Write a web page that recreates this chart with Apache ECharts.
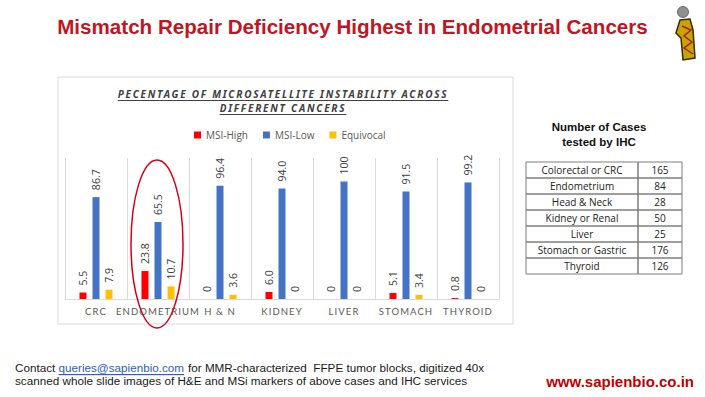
<!DOCTYPE html>
<html><head><meta charset="utf-8">
<script src="https://cdn.jsdelivr.net/npm/echarts@6/dist/echarts.min.js"></script>
<style>
html,body{margin:0;padding:0;background:#fff;}
#c{width:705px;height:397px;}
#c text[style*="Lato"]{letter-spacing:1.1px;}
#c text[style*="Noto Sans"]{letter-spacing:1.75px;text-decoration:underline;}
#c text[style*="Arial"]{text-decoration:underline;}
</style></head>
<body><div id="c"></div>
<script>
const categories = ['CRC', 'ENDOMETRIUM', 'H & N', 'KIDNEY', 'LIVER', 'STOMACH', 'THYROID'];
const seriesNames = ['MSI-High', 'MSI-Low', 'Equivocal'];
const msiHigh = [5.5, 23.8, 0, 6.0, 0, 5.1, 0.8];
const msiLow = [86.7, 65.5, 96.4, 94.0, 100, 91.5, 99.2];
const equivocal = [7.9, 10.7, 3.6, 0, 0, 3.4, 0];
const tableNames = ['Colorectal or CRC', 'Endometrium', 'Head & Neck', 'Kidney or Renal', 'Liver', 'Stomach or Gastric', 'Thyroid'];
const tableCounts = [165, 84, 28, 50, 25, 176, 126];

const colors = ['#FF0000', '#4472C4', '#FFC000'];
const fmt = p => (p.value === 0 || p.value === 100) ? String(p.value) : p.value.toFixed(1);

function mkSeries(name, data, color) {
  return {
    name: name, type: 'bar', data: data, barWidth: 7, barGap: '86%',
    itemStyle: { color: color },
    label: { show: true, position: 'top', rotate: 90, distance: 7, align: 'left', verticalAlign: 'middle',
      formatter: fmt, color: '#404040', fontSize: 10.5, fontFamily: 'Open Sans' }
  };
}

const graphics = [];
// main title
graphics.push({ type: 'text', x: 352.5, y: 27, scaleX: 1.03, originX: 0, originY: 0, style: { text: 'Mismatch Repair Deficiency Highest in Endometrial Cancers',
  font: 'bold 20px "Liberation Sans"', fill: '#BE1622', align: 'center', verticalAlign: 'middle' } });
graphics.push({ type: 'line', shape: { x1: 55, y1: 39, x2: 665, y2: 39 }, style: { lineWidth: 2,
  stroke: { type: 'linear', x: 0, y: 0, x2: 1, y2: 0, colorStops: [{ offset: 0, color: '#5B7FBF' }, { offset: 0.25, color: '#6C7FB0' }, { offset: 0.4, color: '#B5121B' }, { offset: 1, color: '#B5121B' }] } } });
// logo
graphics.push({ type: 'circle', shape: { cx: 683, cy: 12, r: 5.5 }, style: { fill: '#8f8f8f', stroke: '#666', lineWidth: 1 } });
graphics.push({ type: 'polygon', shape: { points: [[680, 20], [690, 19], [693, 30], [695, 58], [683, 60], [681, 38], [676, 33]] },
  style: { fill: '#C9A400', stroke: '#3A2A00', lineWidth: 1.5 } });
graphics.push({ type: 'polyline', shape: { points: [[682, 26], [691, 30], [684, 36], [692, 42], [684, 48], [693, 54]] },
  style: { fill: 'none', stroke: '#A0201A', lineWidth: 1.5 } });
// chart box
graphics.push({ type: 'rect', shape: { x: 58, y: 77, width: 455, height: 247 }, style: { fill: 'none', stroke: '#D9D9D9', lineWidth: 1 } });
// chart title
graphics.push({ type: 'text', x: 283, y: 94, style: { text: 'PECENTAGE OF MICROSATELLITE INSTABILITY ACROSS',
  font: 'italic bold 10px "Noto Sans"', fill: '#404040', align: 'center', verticalAlign: 'middle' } });
graphics.push({ type: 'text', x: 283, y: 108, style: { text: 'DIFFERENT CANCERS',
  font: 'italic bold 10px "Noto Sans"', fill: '#404040', align: 'center', verticalAlign: 'middle' } });
// ellipse
graphics.push({ type: 'ellipse', shape: { cx: 157, cy: 244, rx: 26, ry: 84 }, style: { fill: 'none', stroke: '#D0021B', lineWidth: 1.5 }, z: 100 });
// table
graphics.push({ type: 'text', x: 599, y: 127, style: { text: 'Number of Cases', font: 'bold 11.5px "Liberation Sans"', fill: '#111', align: 'center', verticalAlign: 'middle' } });
graphics.push({ type: 'text', x: 599, y: 142, style: { text: 'tested by IHC', font: 'bold 11.5px "Liberation Sans"', fill: '#111', align: 'center', verticalAlign: 'middle' } });
const tx0 = 526, tx1 = 638, tx2 = 682, ty0 = 162, rh = 16;
tableNames.forEach((n, i) => {
  const y = ty0 + i * rh;
  graphics.push({ type: 'rect', shape: { x: tx0, y: y, width: tx1 - tx0, height: rh }, style: { fill: 'none', stroke: '#7F7F7F', lineWidth: 1 } });
  graphics.push({ type: 'rect', shape: { x: tx1, y: y, width: tx2 - tx1, height: rh }, style: { fill: 'none', stroke: '#7F7F7F', lineWidth: 1 } });
  graphics.push({ type: 'text', x: (tx0 + tx1) / 2, y: y + rh / 2, style: { text: n, font: '10px "Open Sans"', fill: '#222', align: 'center', verticalAlign: 'middle' } });
  graphics.push({ type: 'text', x: (tx1 + tx2) / 2, y: y + rh / 2, style: { text: String(tableCounts[i]), font: '10px "Open Sans"', fill: '#222', align: 'center', verticalAlign: 'middle' } });
});
// footer
graphics.push({ type: 'text', x: 15, y: 367.5, style: { text: 'Contact', font: '11.7px "Liberation Sans"', fill: '#1a1a1a', align: 'left', verticalAlign: 'middle' } });
graphics.push({ type: 'text', x: 58.5, y: 367.5, style: { text: 'queries@sapienbio.com', font: '11.7px Arial', fill: '#2E5FB8', align: 'left', verticalAlign: 'middle' } });
graphics.push({ type: 'text', x: 188, y: 367.5, style: { text: 'for MMR-characterized  FFPE tumor blocks, digitized 40x', font: '11.7px "Liberation Sans"', fill: '#1a1a1a', align: 'left', verticalAlign: 'middle' } });
graphics.push({ type: 'text', x: 15, y: 380.5, style: { text: 'scanned whole slide images of H&E and MSi markers of above cases and IHC services', font: '11.7px "Liberation Sans"', fill: '#1a1a1a', align: 'left', verticalAlign: 'middle' } });
graphics.push({ type: 'text', x: 694, y: 381, style: { text: 'www.sapienbio.co.in', font: 'bold 15px "Liberation Sans"', fill: '#C00000', align: 'right', verticalAlign: 'middle' } });

const chart = echarts.init(document.getElementById('c'), null, { renderer: 'svg' });
chart.setOption({
  animation: false,
  backgroundColor: '#fff',
  color: colors,
  legend: {
    data: seriesNames, left: 189, top: 125, itemWidth: 7, itemHeight: 7, icon: 'rect', itemGap: 15,
    textStyle: { color: '#595959', fontSize: 10, fontFamily: 'Open Sans' }
  },
  grid: { left: 65, right: 206, top: 158, bottom: 98 },
  xAxis: {
    type: 'category', data: categories,
    axisLine: { show: true, lineStyle: { color: '#D9D9D9' } },
    axisTick: { show: false },
    splitLine: { show: true, lineStyle: { color: '#D9D9D9' } },
    axisLabel: { interval: 0, margin: 7, color: '#595959', fontSize: 9.5, fontFamily: 'Lato' }
  },
  yAxis: { type: 'value', min: 0, max: 120, show: false, splitLine: { show: false } },
  series: [mkSeries(seriesNames[0], msiHigh, colors[0]), mkSeries(seriesNames[1], msiLow, colors[1]), mkSeries(seriesNames[2], equivocal, colors[2])],
  graphic: graphics
});
</script>
</body></html>
